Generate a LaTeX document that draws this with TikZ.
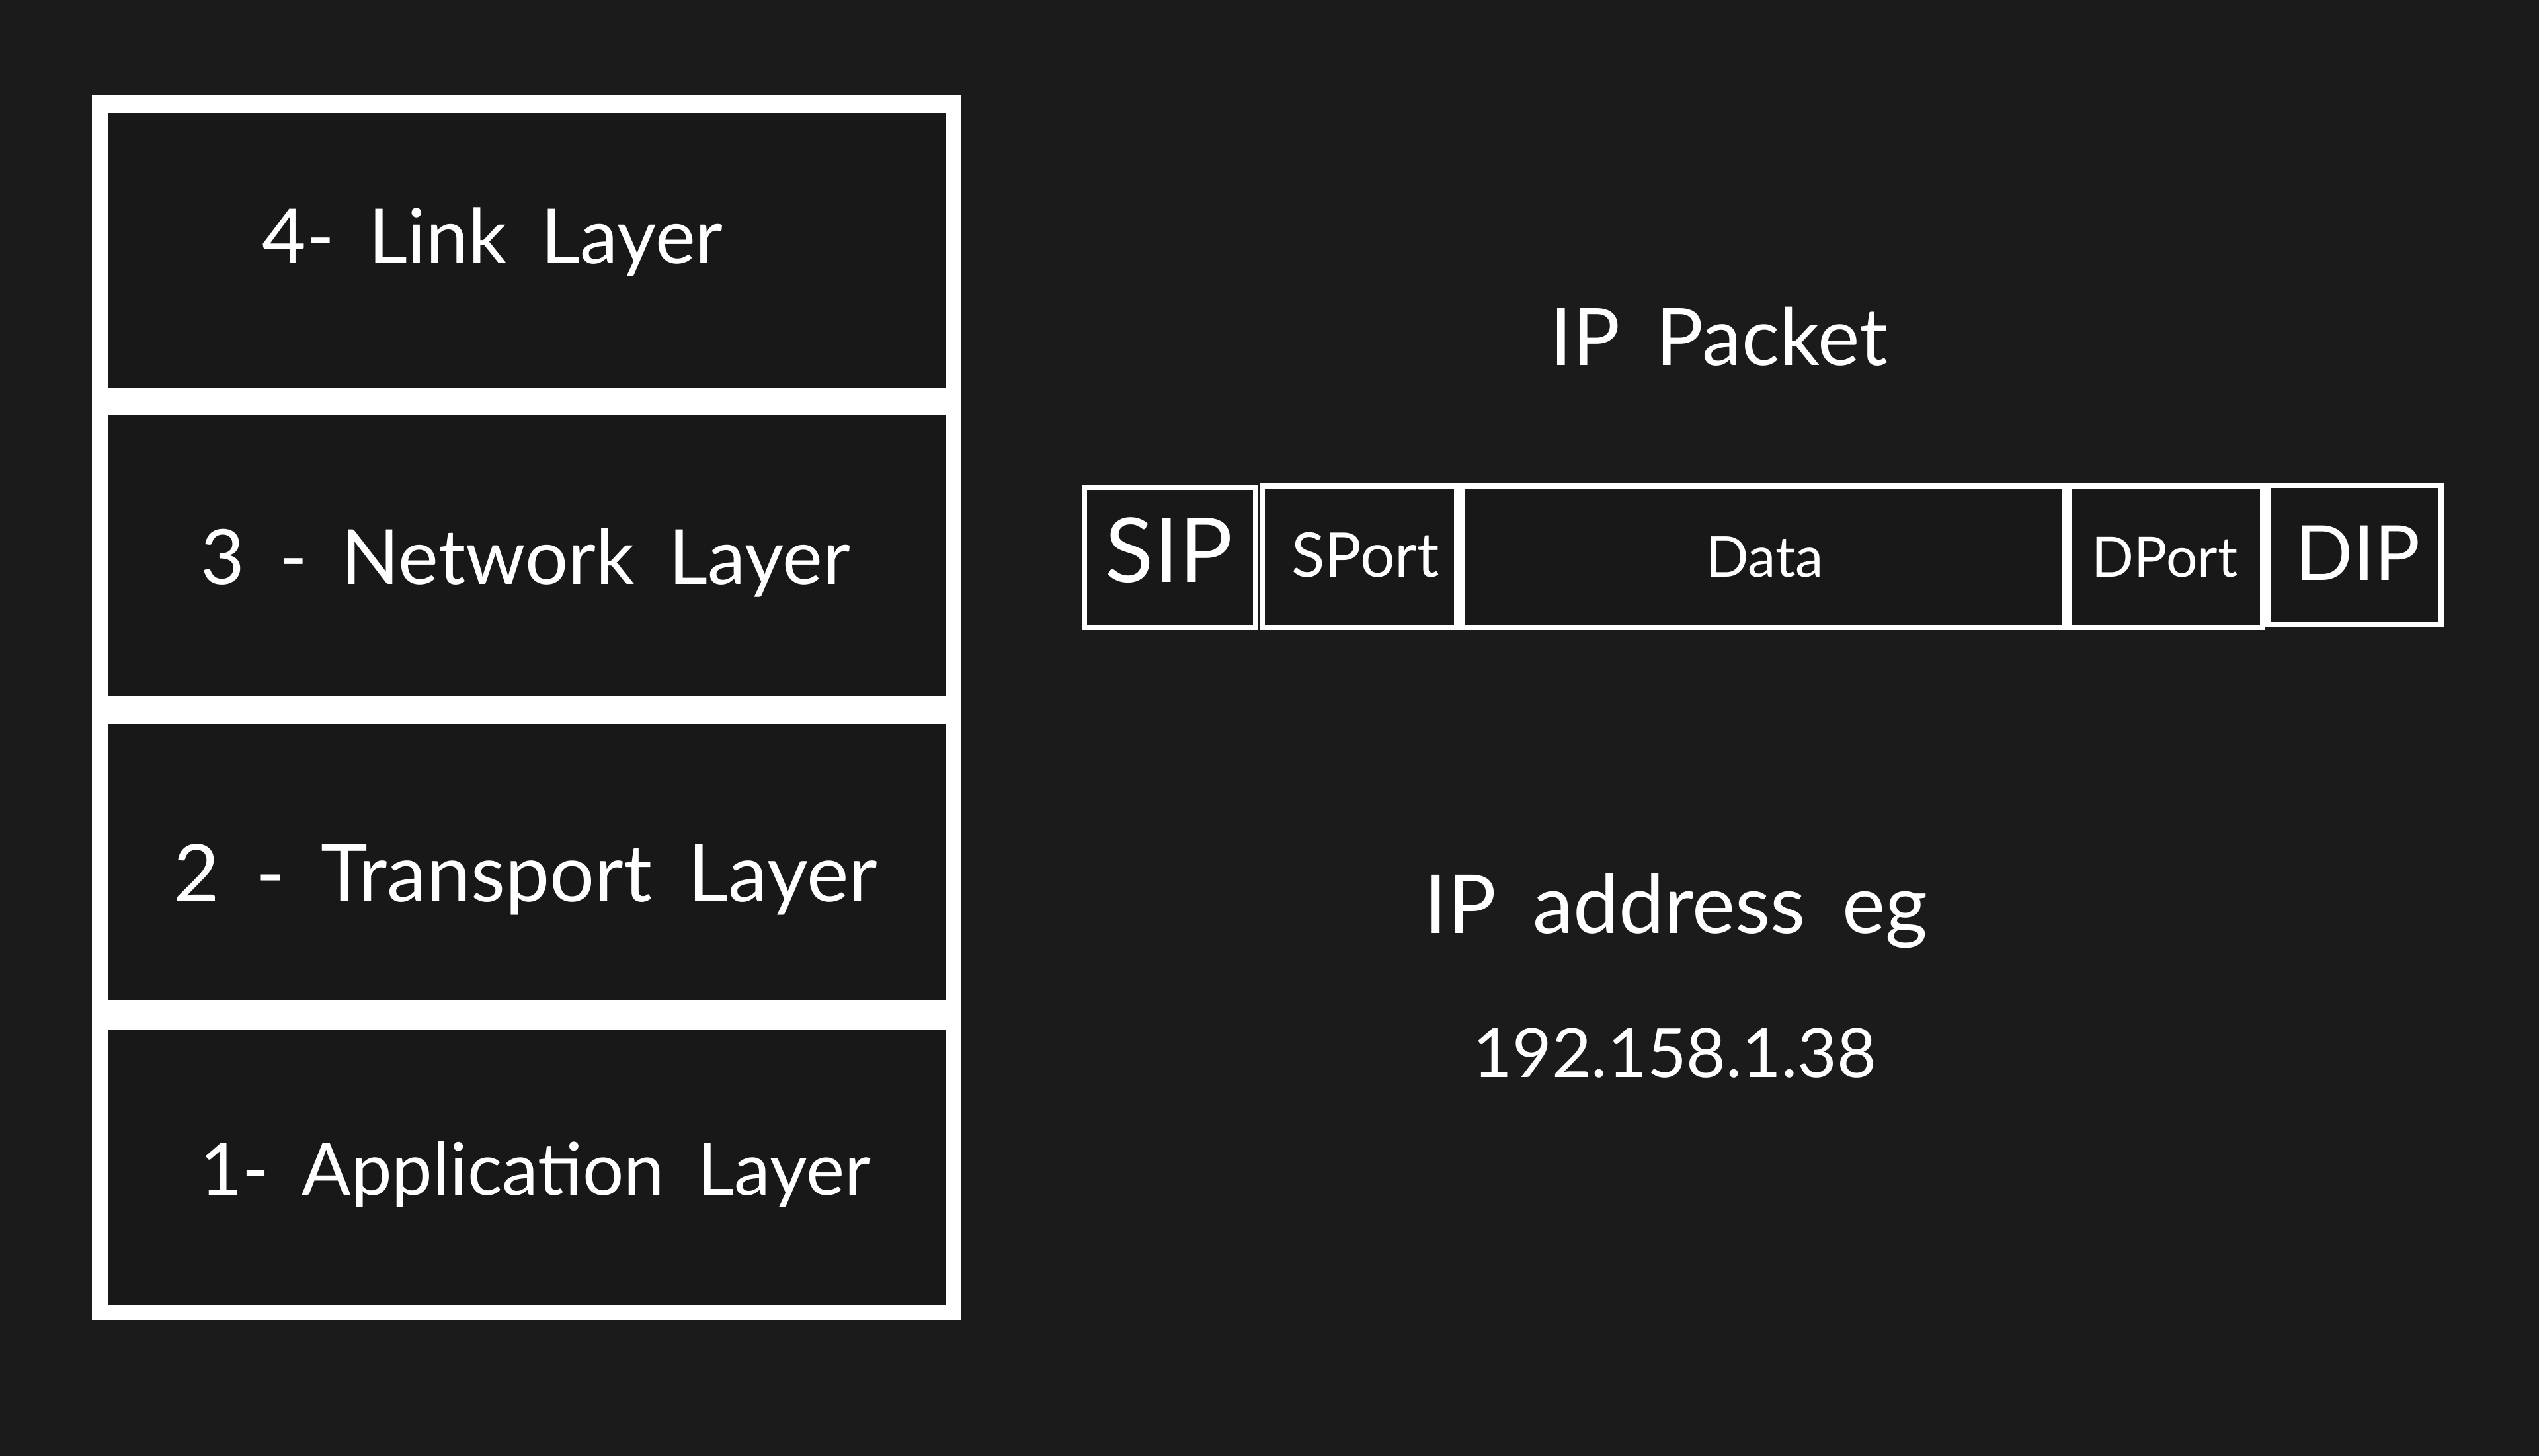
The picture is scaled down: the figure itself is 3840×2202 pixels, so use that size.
\documentclass[tikz,border=0pt]{standalone}
\usepackage{fontspec}
\setmainfont{Lato}
\definecolor{bg}{HTML}{1B1B1B}
\definecolor{boxbg}{HTML}{181818}
\begin{document}
\begin{tikzpicture}[x=0.1pt,y=-0.1pt,
  txt/.style={text=white, inner sep=0pt, anchor=base},
  bigtxt/.style={txt, font=\fontsize{11.5pt}{14pt}\selectfont},
  fieldbox/.style={draw=white, line width=0.8pt, fill=boxbg, inner sep=0pt},
  layerbox/.style={fill=boxbg, draw=none, inner sep=0pt, minimum width=126.6pt},
]
\fill[bg] (0,0) rectangle (3840,2202);
\useasboundingbox (0,0) rectangle (3840,2202);

% layer stack
\node[fill=white, inner sep=0pt, minimum width=131.4pt, minimum height=185.2pt] (frame) at (796,1070) {};
\node[layerbox, minimum height=41.6pt] (l4) at (797,379) {};
\node[layerbox, minimum height=42.5pt] (l3) at (797,840.5) {};
\node[layerbox, minimum height=41.8pt] (l2) at (797,1304) {};
\node[layerbox, minimum height=41.6pt] (l1) at (797,1766) {};

\node[bigtxt] (t4) at (745,399) {4-\hspace{0.45em}Link\hspace{0.45em}Layer};
\node[bigtxt] (t3) at (795,884) {3\hspace{0.45em}-\hspace{0.45em}Network\hspace{0.45em}Layer};
\node[bigtxt, font=\fontsize{12pt}{14pt}\selectfont] (t2) at (795,1364) {2\hspace{0.45em}-\hspace{0.45em}Transport\hspace{0.45em}Layer};
\node[bigtxt, font=\fontsize{11pt}{14pt}\selectfont] (t1) at (810,1807) {1-\hspace{0.45em}Application\hspace{0.45em}Layer};

% IP packet
\node[txt, font=\fontsize{12pt}{14pt}\selectfont] (pk) at (2600,553) {IP\hspace{0.45em}Packet};

\node[fieldbox, minimum width=25.9pt, minimum height=21.2pt] (sip) at (1769.5,843) {};
\node[fieldbox, minimum width=29.4pt, minimum height=21.4pt] (sport) at (2056,842) {};
\node[fieldbox, minimum width=91.1pt, minimum height=21.4pt] (data) at (2666.5,842) {};
\node[fieldbox, minimum width=29.2pt, minimum height=21.4pt] (dport) at (3276,842) {};
\node[fieldbox, minimum width=26.2pt, minimum height=21.0pt] (dip) at (3561,839) {};

\node[txt, font=\fontsize{13.5pt}{15pt}\selectfont] (sipt) at (1768,880) {SIP};
\node[txt, font=\fontsize{9.3pt}{11pt}\selectfont] (sportt) at (2065,872) {SPort};
\node[txt, font=\fontsize{8.5pt}{10pt}\selectfont] (datat) at (2669,872) {Data};
\node[txt, font=\fontsize{8.4pt}{10pt}\selectfont] (dportt) at (3274,872) {DPort};
\node[txt, font=\fontsize{11.5pt}{13pt}\selectfont] (dipt) at (3566,877) {DIP};

% IP address
\node[txt, font=\fontsize{12.3pt}{14pt}\selectfont] (ipa) at (2535,1411) {IP\hspace{0.45em}address\hspace{0.45em}eg};
\node[txt, font=\fontsize{10.3pt}{12pt}\selectfont] (ipn) at (2533,1629) {192.158.1.38};
\end{tikzpicture}
\end{document}
